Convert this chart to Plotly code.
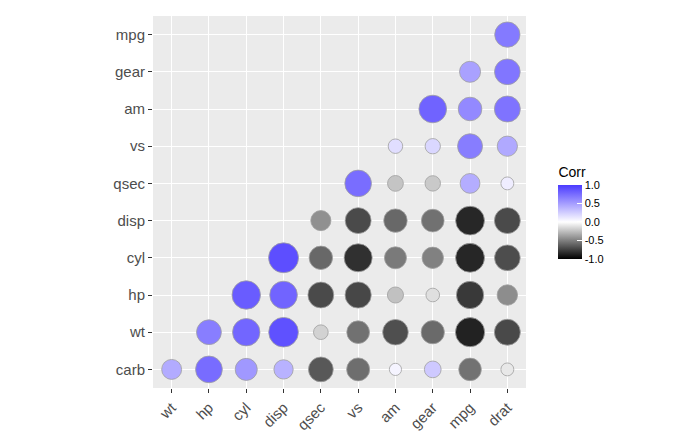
import plotly.graph_objects as go

order = ['carb', 'wt', 'hp', 'cyl', 'disp', 'qsec', 'vs', 'am', 'gear', 'mpg', 'drat']
x_labels = ['wt', 'hp', 'cyl', 'disp', 'qsec', 'vs', 'am', 'gear', 'mpg', 'drat']
y_labels = ['carb', 'wt', 'hp', 'cyl', 'disp', 'qsec', 'vs', 'am', 'gear', 'mpg']

corr = {
    ('mpg', 'cyl'): -0.852, ('mpg', 'disp'): -0.848, ('mpg', 'hp'): -0.776, ('mpg', 'drat'): 0.681,
    ('mpg', 'wt'): -0.868, ('mpg', 'qsec'): 0.419, ('mpg', 'vs'): 0.664, ('mpg', 'am'): 0.600,
    ('mpg', 'gear'): 0.480, ('mpg', 'carb'): -0.551,
    ('cyl', 'disp'): 0.902, ('cyl', 'hp'): 0.832, ('cyl', 'drat'): -0.700, ('cyl', 'wt'): 0.782,
    ('cyl', 'qsec'): -0.591, ('cyl', 'vs'): -0.811, ('cyl', 'am'): -0.523, ('cyl', 'gear'): -0.493,
    ('cyl', 'carb'): 0.527,
    ('disp', 'hp'): 0.791, ('disp', 'drat'): -0.710, ('disp', 'wt'): 0.888, ('disp', 'qsec'): -0.434,
    ('disp', 'vs'): -0.710, ('disp', 'am'): -0.591, ('disp', 'gear'): -0.556, ('disp', 'carb'): 0.395,
    ('hp', 'drat'): -0.449, ('hp', 'wt'): 0.659, ('hp', 'qsec'): -0.708, ('hp', 'vs'): -0.723,
    ('hp', 'am'): -0.243, ('hp', 'gear'): -0.126, ('hp', 'carb'): 0.750,
    ('drat', 'wt'): -0.712, ('drat', 'qsec'): 0.091, ('drat', 'vs'): 0.440, ('drat', 'am'): 0.713,
    ('drat', 'gear'): 0.700, ('drat', 'carb'): -0.091,
    ('wt', 'qsec'): -0.175, ('wt', 'vs'): -0.555, ('wt', 'am'): -0.692, ('wt', 'gear'): -0.583,
    ('wt', 'carb'): 0.428,
    ('qsec', 'vs'): 0.745, ('qsec', 'am'): -0.230, ('qsec', 'gear'): -0.213, ('qsec', 'carb'): -0.656,
    ('vs', 'am'): 0.168, ('vs', 'gear'): 0.206, ('vs', 'carb'): -0.570,
    ('am', 'gear'): 0.794, ('am', 'carb'): 0.058,
    ('gear', 'carb'): 0.274,
}


def get_corr(a, b):
    return corr.get((a, b), corr.get((b, a)))


xs, ys, vals = [], [], []
for i, yv in enumerate(order):
    for xv in order[i + 1:]:
        xs.append(xv)
        ys.append(yv)
        vals.append(get_corr(xv, yv))

sizes = [11 + 21 * abs(v) for v in vals]
scale = [[0, '#000000'], [0.5, '#FFFFFF'], [1, '#4B3BFF']]

fig = go.Figure(go.Scatter(
    x=xs, y=ys, mode='markers',
    marker=dict(size=sizes, color=vals, colorscale=scale, cmin=-1, cmax=1, opacity=1,
                line=dict(color='#A0A0A0', width=0.8),
                colorbar=dict(title=dict(text='Corr', font=dict(size=14, color='black')),
                              lenmode='pixels', len=115, thickness=24, thicknessmode='pixels',
                              x=1.06, xanchor='left', y=0.475, yanchor='middle',
                              tickvals=[-1, -0.5, 0, 0.5, 1],
                              ticktext=['-1.0', '-0.5', '0.0', '0.5', '1.0'],
                              ticks='inside', tickcolor='white', ticklen=5,
                              tickfont=dict(size=11, color='black'), outlinewidth=0)),
    hoverinfo='x+y+text', text=[f'{v:.2f}' for v in vals],
))

fig.update_layout(
    width=700, height=432,
    margin=dict(l=145, r=182, t=8, b=52, autoexpand=False),
    plot_bgcolor='#EBEBEB', paper_bgcolor='white',
    font=dict(family='Liberation Sans, Arial', size=14, color='#4D4D4D'),
    showlegend=False,
)
fig.update_xaxes(categoryorder='array', categoryarray=x_labels, tickangle=-45,
                 tickfont=dict(size=15, color='#4D4D4D'), automargin=False,
                 showgrid=True, gridcolor='white', gridwidth=1.3, zeroline=False,
                 ticks='outside', ticklen=4, tickcolor='#333333', range=[-0.5, 9.5])
fig.update_yaxes(categoryorder='array', categoryarray=y_labels,
                 tickfont=dict(size=15, color='#4D4D4D'), automargin=False,
                 showgrid=True, gridcolor='white', gridwidth=1.3, zeroline=False,
                 ticks='outside', ticklen=4, tickcolor='#333333', range=[-0.5, 9.5])

fig.write_html("out.html")
